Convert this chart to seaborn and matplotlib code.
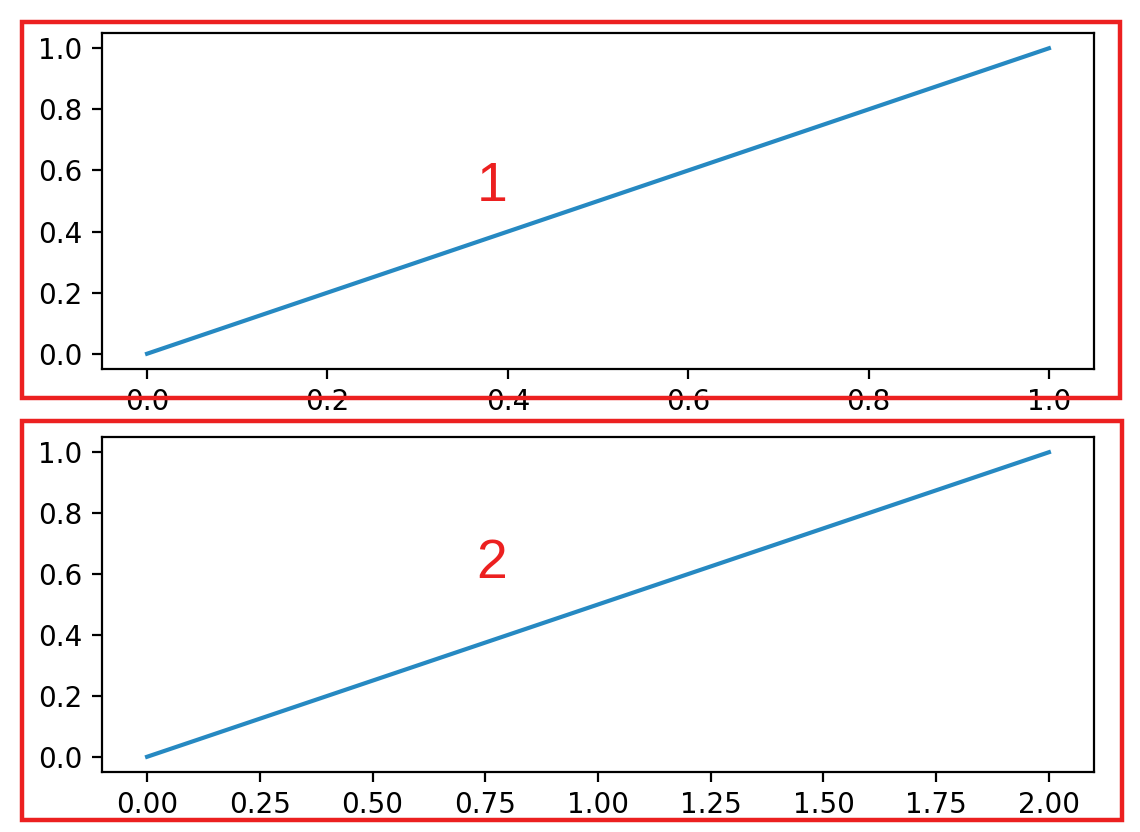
import matplotlib
matplotlib.use("Agg")
import matplotlib.pyplot as plt
import matplotlib.patches as mpatches
import seaborn as sns
import pandas as pd

# data
x_top = [0.0, 1.0]
y_top = [0.0, 1.0]
x_bottom = [0.0, 2.0]
y_bottom = [0.0, 1.0]
labels = ["1", "2"]

W, H = 1140, 832
fig = plt.figure(figsize=(W / 200, H / 200), dpi=200)


def px_rect(left, top, right, bottom):
    # pixel box (origin top-left) -> figure fraction
    return [left / W, 1 - bottom / H, (right - left) / W, (bottom - top) / H]


ax1 = fig.add_axes(px_rect(102, 33, 1094, 369))
ax2 = fig.add_axes(px_rect(102, 437, 1094, 772))

line_color = "#2689c2"
df1 = pd.DataFrame({"x": x_top, "y": y_top})
df2 = pd.DataFrame({"x": x_bottom, "y": y_bottom})
sns.lineplot(data=df1, x="x", y="y", ax=ax1, color=line_color, linewidth=1.5)
sns.lineplot(data=df2, x="x", y="y", ax=ax2, color=line_color, linewidth=1.5)

for ax in (ax1, ax2):
    ax.set_xlabel("")
    ax.set_ylabel("")
    ax.set_yticks([0.0, 0.2, 0.4, 0.6, 0.8, 1.0])

ax2.set_xticks([0.0, 0.25, 0.5, 0.75, 1.0, 1.25, 1.5, 1.75, 2.0])
ax2.set_xticklabels(["0.00", "0.25", "0.50", "0.75", "1.00", "1.25", "1.50", "1.75", "2.00"])

# red frames drawn on top of everything
red = "#ec2020"
for (l, t, r, b) in [(22, 22, 1120, 398), (22, 421, 1122, 820)]:
    rect = mpatches.Rectangle((l / W, 1 - b / H), (r - l) / W, (b - t) / H,
                              transform=fig.transFigure, fill=False,
                              edgecolor=red, linewidth=1.6, zorder=10)
    fig.patches.append(rect)

# labels
fig.text(492 / W, 1 - 187 / H, labels[0], color=red, fontsize=20,
         family="Liberation Sans", ha="center", va="center")
fig.text(492 / W, 1 - 564 / H, labels[1], color=red, fontsize=20,
         family="Liberation Sans", ha="center", va="center")

fig.savefig("out.png", dpi=200)
